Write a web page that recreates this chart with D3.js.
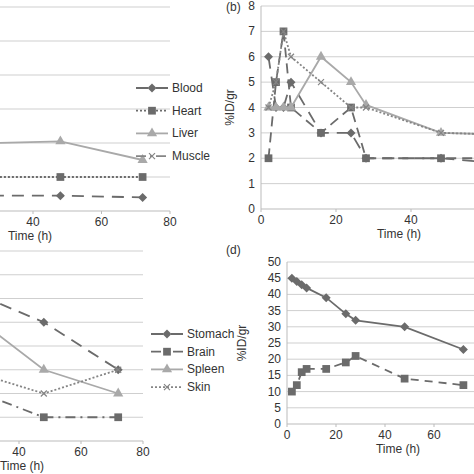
<!DOCTYPE html>
<html><head><meta charset="utf-8">
<script src="https://cdn.jsdelivr.net/npm/d3@7"></script>
<style>body{margin:0;background:#fff}text{font-family:"Liberation Sans",Arial,sans-serif;fill:#333}</style>
</head><body><svg id="c" width="474" height="474"></svg>
<script>
const times = [2, 4, 6, 8, 16, 24, 28, 48, 72];
// panel a (left part cut off)
const aTimes = [28, 48, 72];
const aBlood = [0.45, 0.45, 0.4];
const aHeart = [1.0, 1.0, 1.0];
const aLiver = [2.0, 2.05, 1.5];
const aMuscle = [1.5, null, null];
// panel b
const bBlood = [6, 4, 4, 5, 3, 3, 2, 2, 1.7];
const bHeart = [2, 5, 7, 4, 3, 4, 2, 2, 2];
const bLiver = [4, 4, 4, 4, 6, 5, 4.1, 3, 2.9];
const bMuscle = [4, 5, 7, 6, 5, 4, 4, 3, 2.9];
// panel c
const cTimes = [28, 48, 72];
const cStomach = [6.1, 5, 3];
const cBrain = [2.0, 1, 1];
const cSpleen = [5.0, 3, 2];
const cSkin = [2.8, 2, 3];
// panel d
const dSolid = [45, 44, 43, 42, 39, 34, 32, 30, 23];
const dDashed = [10, 12, 16, 17, 17, 19, 21, 14, 12];

const DARK = "#6b6b6b", LIGHT = "#a9a9a9", MID = "#858585";
const svg = d3.select("#c");

function marker(g, type, x, y, color) {
  if (!type) return;
  if (type === "x") {
    g.append("path").attr("d", `M${x-3},${y-3}L${x+3},${y+3}M${x-3},${y+3}L${x+3},${y-3}`)
      .attr("stroke", color).attr("stroke-width", 1.2);
    return;
  }
  if (type === "d") {
    g.append("path").attr("d", `M${x},${y-4.5}L${x+4.5},${y}L${x},${y+4.5}L${x-4.5},${y}Z`).attr("fill", color);
    return;
  }
  const sym = { s: d3.symbolSquare, t: d3.symbolTriangle }[type];
  const size = { s: 60, t: 45 }[type];
  g.append("path").attr("d", d3.symbol(sym, size)()).attr("transform", `translate(${x},${y})`).attr("fill", color);
}

function panel(o) {
  const g = svg.append("g");
  const x = d3.scaleLinear().domain(o.xd).range(o.xr);
  const y = d3.scaleLinear().domain(o.yd).range(o.yr);
  const id = "clip" + o.name;
  g.append("clipPath").attr("id", id).append("rect")
    .attr("x", o.clipX).attr("y", 0).attr("width", o.clipW).attr("height", 474);
  const gridG = g.append("g").attr("clip-path", `url(#${id})`);
  gridG.selectAll("line.grid").data(y.ticks(o.ny)).join("line")
    .attr("x1", o.gridX[0]).attr("x2", o.gridX[1])
    .attr("y1", d => y(d)).attr("y2", d => y(d))
    .attr("stroke", d => d === 0 ? "#bbb" : "#cfcfcf").attr("stroke-width", 1);
  if (o.yAxis) {
    g.append("line").attr("x1", x(0)).attr("x2", x(0)).attr("y1", y(o.yd[1])).attr("y2", y(0)).attr("stroke", "#bbb");
    g.selectAll("text.yt").data(y.ticks(o.ny)).join("text")
      .attr("x", x(0) - 6).attr("y", d => y(d) + 4).attr("text-anchor", "end")
      .attr("font-size", 12).text(d => d);
    g.append("text").attr("transform", `translate(${o.yLabelX},${(y(o.yd[1]) + y(0)) / 2}) rotate(-90)`)
      .attr("text-anchor", "middle").attr("font-size", 12).text("%ID/gr");
  }
  g.selectAll("text.xt").data(o.xticks).join("text")
    .attr("x", d => x(d)).attr("y", y(0) + 15).attr("text-anchor", "middle").attr("font-size", 12).text(d => d);
  g.selectAll("line.xtk").data(o.xticks).join("line")
    .attr("x1", d => x(d)).attr("x2", d => x(d)).attr("y1", y(0)).attr("y2", y(0) + 3).attr("stroke", "#bbb");
  g.append("text").attr("x", o.titleX).attr("y", y(0) + 29).attr("text-anchor", "middle").attr("font-size", 12).text("Time (h)");
  if (o.tag) g.append("text").attr("x", o.tag[0]).attr("y", o.tag[1]).attr("font-size", 12).text(o.tag[2]);

  const lg = g.append("g").attr("clip-path", `url(#${id})`);
  const line = d3.line().defined(d => d[1] != null).x(d => x(d[0])).y(d => y(d[1]));
  o.series.forEach(s => {
    const pts = o.t.map((t, i) => [t, s.v[i]]);
    lg.append("path").attr("d", line(pts)).attr("fill", "none")
      .attr("stroke", s.c).attr("stroke-width", 1.8).attr("stroke-dasharray", s.dash || null);
    pts.filter(p => p[1] != null)
      .forEach(p => marker(lg, s.m, x(p[0]), y(p[1]), s.c));
  });
  if (o.legend) {
    o.series.forEach((s, i) => {
      const ly = o.legend.y + i * o.legend.dy;
      g.append("line").attr("x1", o.legend.x - 16).attr("x2", o.legend.x + 16).attr("y1", ly).attr("y2", ly)
        .attr("stroke", s.c).attr("stroke-width", 1.8).attr("stroke-dasharray", s.dash || null);
      marker(g, s.m, o.legend.x, ly, s.c);
      g.append("text").attr("x", o.legend.x + 20).attr("y", ly + 4).attr("font-size", 12).text(s.name);
    });
  }
}

panel({ name: "a", xd: [0, 80], xr: [-104, 170], yd: [0, 6], yr: [211, 7], ny: 6,
  gridX: [0, 170], clipX: 0, clipW: 180, xticks: [40, 60, 80], titleX: 30, t: aTimes,
  legend: { x: 152, y: 88, dy: 22.7 },
  series: [
    { name: "Blood", v: aBlood, c: DARK, m: "d", dash: "12,8" },
    { name: "Heart", v: aHeart, c: DARK, m: "s", dash: "2,2" },
    { name: "Liver", v: aLiver, c: LIGHT, m: "t" },
    { name: "Muscle", v: aMuscle, c: MID, m: "x", dash: "10,4,2,4" }
  ] });

panel({ name: "b", xd: [0, 80], xr: [261, 561], yd: [0, 8], yr: [209, 6], ny: 8,
  gridX: [261, 474], clipX: 255, clipW: 219, xticks: [0, 20, 40], titleX: 399, yAxis: true, yLabelX: 234,
  tag: [226, 11, "(b)"], t: times,
  series: [
    { name: "Blood", v: bBlood, c: DARK, m: "d", dash: "12,8" },
    { name: "Heart", v: bHeart, c: DARK, m: "s", dash: "10,6" },
    { name: "Liver", v: bLiver, c: LIGHT, m: "t" },
    { name: "Muscle", v: bMuscle, c: MID, m: "x", dash: "2,2" }
  ] });

panel({ name: "c", xd: [0, 80], xr: [-105, 143], yd: [0, 8], yr: [441, 251], ny: 8,
  gridX: [0, 143], clipX: 0, clipW: 150, xticks: [40, 60, 80], titleX: 22, t: cTimes,
  legend: { x: 167, y: 334, dy: 17.7 },
  series: [
    { name: "Stomach", v: cStomach, c: DARK, m: "d", dash: "12,8" },
    { name: "Brain", v: cBrain, c: DARK, m: "s", dash: "10,5,2,5" },
    { name: "Spleen", v: cSpleen, c: LIGHT, m: "t" },
    { name: "Skin", v: cSkin, c: MID, m: "x", dash: "2,2" }
  ] });

panel({ name: "d", xd: [0, 80], xr: [287, 483], yd: [0, 50], yr: [424, 262], ny: 10,
  gridX: [287, 474], clipX: 280, clipW: 194, xticks: [0, 20, 40, 60], titleX: 398, yAxis: true, yLabelX: 246,
  tag: [226, 254, "(d)"], t: times,
  series: [
    { name: "A", v: dSolid, c: DARK, m: "d" },
    { name: "B", v: dDashed, c: DARK, m: "s", dash: "8,6" }
  ] });
</script></body></html>
